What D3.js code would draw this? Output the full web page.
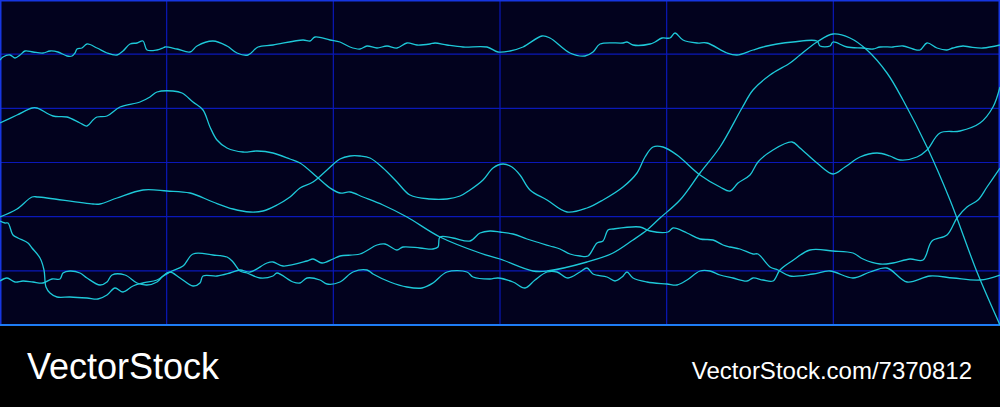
<!DOCTYPE html>
<html lang="en">
<head>
    <meta charset="UTF-8">
    <title>Signal lines</title>
    <style>
        html, body {
            margin: 0;
            padding: 0;
            background: #000;
            overflow: hidden;
        }
        svg {
            display: block;
        }
    </style>
</head>
<body>
<svg width="1000" height="407"></svg>

<script src="https://d3js.org/d3.v7.min.js"></script>
<script>
    // x: sample position (0..1000), y: signal level (0..325)
    const seriesA = [[0,265],[3,268],[10,270],[15,267],[20,270],[25,274],[33,273],[43,272],[50,274],[58,273],[67,269],[72,269],[75,272],[77,276],[82,277],[87,281],[97,277],[107,272],[117,270],[123,274],[130,281],[137,282],[143,284],[147,275],[157,275],[163,277],[165,278],[177,276],[190,273],[197,279],[213,284],[227,279],[237,272],[248,270],[258,278],[273,280],[303,285],[310,284],[315,288],[330,285],[340,283],[350,278],[360,276],[367,279],[377,277],[387,279],[397,277],[407,282],[417,280],[430,281],[435,282],[447,280],[463,278],[487,278],[498,273],[510,274],[523,278],[542,289],[550,287],[570,272],[585,269],[593,273],[600,281],[623,282],[627,283],[633,280],[650,281],[655,283],[662,287],[670,287],[675,292],[683,285],[697,282],[707,282],[727,272],[737,270],[753,275],[767,279],[777,281],[793,283],[817,284],[820,279],[830,279],[833,283],[847,278],[863,277],[873,276],[880,278],[893,278],[903,279],[913,276],[920,275],[927,282],[937,277],[947,275],[953,277],[963,279],[970,278],[983,277],[1000,280]];

    const seriesB = [[0,202],[17,210],[32,217],[37,217],[53,209],[67,208],[80,202],[87,199],[93,205],[97,208],[107,209],[120,218],[140,223],[150,228],[157,233],[173,234],[182,232],[193,223],[203,215],[210,198],[217,185],[227,177],[243,173],[257,174],[273,172],[290,166],[300,162],[317,148],[330,137],[340,132],[350,133],[363,128],[383,120],[407,108],[440,88],[480,72],[500,66],[533,54],[547,54],[587,63],[613,72],[633,85],[647,95],[660,107],[680,125],[700,152],[720,178],[742,217],[753,235],[770,250],[790,262],[800,270],[817,283],[833,291],[850,287],[867,275],[887,252],[903,225],[927,178],[950,125],[977,53],[1000,0]];

    const seriesC = [[0,108],[17,116],[32,128],[38,128],[93,121],[100,121],[117,127],[143,135],[167,134],[190,132],[213,123],[233,116],[250,113],[263,114],[277,120],[290,128],[300,137],[313,143],[327,155],[340,166],[350,169],[360,169],[370,167],[383,157],[397,143],[410,130],[430,126],[447,126],[460,129],[470,135],[483,145],[493,157],[503,161],[512,158],[520,150],[530,135],[547,125],[567,113],[587,117],[603,125],[623,138],[637,152],[645,168],[653,178],[663,178],[677,170],[700,150],[720,138],[730,134],[738,142],[750,150],[758,163],[773,175],[792,183],[800,177],[817,162],[833,151],[845,158],[860,168],[877,172],[890,169],[900,165],[917,168],[927,175],[940,192],[960,194],[980,202],[993,218],[1000,238]];

    const seriesD = [[0,104],[5,102],[8,102],[13,90],[18,87],[28,82],[32,77],[40,67],[44,55],[46,38],[50,32],[57,28],[70,28],[87,27],[98,26],[107,30],[115,37],[123,33],[133,39],[143,42],[157,45],[165,50],[172,54],[183,59],[193,71],[213,70],[227,68],[233,63],[240,54],[247,52],[260,47],[273,49],[277,52],[293,43],[300,42],[307,47],[320,45],[327,41],[340,43],[353,53],[367,55],[373,51],[390,43],[407,38],[422,37],[433,42],[447,53],[467,53],[473,48],[490,46],[498,47],[513,43],[525,37],[535,45],[547,53],[557,53],[568,47],[580,53],[587,57],[593,51],[607,48],[615,44],[622,48],[627,53],[633,47],[647,43],[667,41],[677,40],[687,45],[700,54],[710,54],[720,50],[733,47],[747,44],[753,47],[763,45],[773,44],[780,55],[792,64],[810,75],[833,74],[853,72],[863,66],[880,61],[893,62],[910,66],[923,65],[932,84],[947,90],[957,107],[967,118],[978,125],[987,138],[1000,157]];

    const seriesE = [[0,44],[7,47],[15,43],[23,44],[33,43],[43,42],[52,46],[60,46],[63,52],[70,54],[80,52],[87,47],[100,40],[107,43],[112,50],[125,50],[137,42],[147,40],[157,43],[163,49],[170,53],[180,47],[193,39],[200,42],[203,49],[217,49],[230,52],[240,55],[250,53],[267,62],[273,63],[283,59],[307,64],[313,66],[322,62],[333,66],[340,69],[360,71],[377,80],[385,81],[397,75],[403,78],[420,77],[433,76],[438,78],[440,88],[453,87],[470,84],[480,92],[490,94],[500,93],[513,91],[527,86],[540,82],[550,79],[560,76],[570,71],[580,69],[588,69],[597,82],[603,84],[608,95],[613,96],[640,98],[650,94],[668,93],[673,97],[687,92],[700,86],[713,85],[723,80],[730,78],[740,76],[753,71],[758,71],[770,58],[778,55],[790,49],[813,51],[830,54],[853,47],[870,53],[887,57],[907,43],[930,49],[953,47],[980,45],[1000,50]];

    const allSeries = [seriesA, seriesB, seriesC, seriesD, seriesE];

    // grid divisions
    const xTicks = [0, 1000 / 6, 2000 / 6, 500, 4000 / 6, 5000 / 6, 1000];
    const yTicks = [0, 325 / 6, 650 / 6, 162.5, 1300 / 6, 1625 / 6, 325];

    const footerLeft = "VectorStock";
    const footerRight = "VectorStock.com/7370812";

    const svg = d3.select("svg"),
        plotW = 1000,
        plotH = 325;

    svg.append("rect")
        .attr("width", 1000)
        .attr("height", 407)
        .attr("fill", "#000");

    const g = svg.append("g");

    g.append("rect")
        .attr("width", plotW)
        .attr("height", plotH)
        .attr("fill", "#02021e");

    const x = d3.scaleLinear().domain([0, 1000]).range([0, plotW]),
        y = d3.scaleLinear().domain([0, 325]).range([plotH, 0]);

    // grid
    g.append("g")
        .selectAll("line")
        .data(xTicks.slice(1, -1))
        .join("line")
        .attr("x1", d => x(d)).attr("x2", d => x(d))
        .attr("y1", 0).attr("y2", plotH)
        .attr("stroke", "#0a18b8")
        .attr("stroke-width", 1.2);

    g.append("g")
        .selectAll("line")
        .data(yTicks.slice(1, -1))
        .join("line")
        .attr("x1", 0).attr("x2", plotW)
        .attr("y1", d => y(d)).attr("y2", d => y(d))
        .attr("stroke", "#0a18b8")
        .attr("stroke-width", 1.2);

    // frame
    g.append("rect")
        .attr("x", 0.75)
        .attr("y", 0.75)
        .attr("width", plotW - 1.5)
        .attr("height", plotH - 0.5)
        .attr("fill", "none")
        .attr("stroke", "#1636e0")
        .attr("stroke-width", 1.5);

    g.append("line")
        .attr("x1", 0).attr("x2", plotW)
        .attr("y1", plotH).attr("y2", plotH)
        .attr("stroke", "#1e7cf5")
        .attr("stroke-width", 2);

    const line = d3.line()
        .x(d => x(d[0]))
        .y(d => y(d[1]))
        .curve(d3.curveCatmullRom.alpha(0.5));

    g.append("g")
        .selectAll("path")
        .data(allSeries)
        .join("path")
        .attr("d", line)
        .attr("fill", "none")
        .attr("stroke", "#1ec8d8")
        .attr("stroke-width", 1.3);

    // footer
    svg.append("text")
        .attr("x", 27)
        .attr("y", 379)
        .attr("fill", "#fff")
        .attr("font-family", "Liberation Sans, Arial, sans-serif")
        .attr("font-size", 36)
        .text(footerLeft);

    svg.append("text")
        .attr("x", 972)
        .attr("y", 379)
        .attr("text-anchor", "end")
        .attr("fill", "#fff")
        .attr("font-family", "Liberation Sans, Arial, sans-serif")
        .attr("font-size", 24)
        .text(footerRight);
</script>
</body>
</html>
